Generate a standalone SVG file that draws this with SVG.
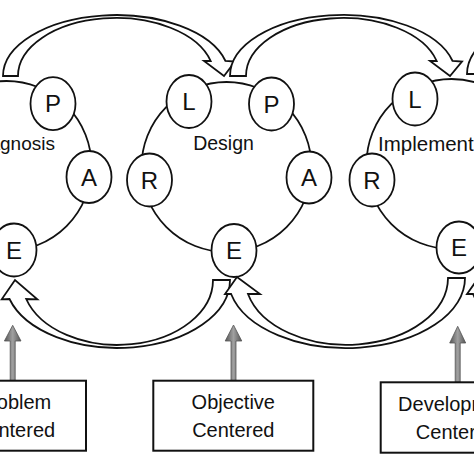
<svg xmlns="http://www.w3.org/2000/svg" width="474" height="474" viewBox="0 0 474 474">
<style>
.cyc{fill:none;stroke:#111;stroke-width:1.8}
.node ellipse{fill:#fff;stroke:#111;stroke-width:1.8}
.letter{font-family:"Liberation Sans",Arial,sans-serif;font-size:24px;fill:#111;text-anchor:middle}
.lbl{font-family:"Liberation Sans",Arial,sans-serif;font-size:20px;fill:#111}
.blk{fill:#fff;stroke:#111;stroke-width:1.8;stroke-linejoin:miter}
.box rect{fill:#fff;stroke:#111;stroke-width:2}
.box text{font-family:"Liberation Sans",Arial,sans-serif;font-size:20px;fill:#111;text-anchor:middle}
.gray{fill:url(#g);stroke:#555;stroke-width:0.8}
</style>
<defs>
<linearGradient id="g" x1="0" y1="0" x2="1" y2="0">
<stop offset="0" stop-color="#555"/>
<stop offset="0.5" stop-color="#a0a0a0"/>
<stop offset="1" stop-color="#555"/>
</linearGradient>
</defs>
<rect width="474" height="474" fill="#fff"/>

<g id="cycles">
<circle class="cyc" cx="6.5" cy="166" r="85"/>
<circle class="cyc" cx="226.5" cy="167" r="85"/>
<circle class="cyc" cx="451.5" cy="164" r="85"/>
</g>

<g id="labels">
<text class="lbl" x="-28.5" y="150" style="font-size:19px">Diagnosis</text>
<text class="lbl" x="223.5" y="150" text-anchor="middle" style="font-size:19.5px">Design</text>
<text class="lbl" x="378" y="151" style="font-size:20.5px">Implementation</text>
</g>

<g id="diag-P" class="node"><ellipse cx="53" cy="103.7" rx="22.5" ry="26.5"/><text class="letter" x="53" y="112.3">P</text></g>
<g id="diag-A" class="node"><ellipse cx="89" cy="177" rx="22.5" ry="26"/><text class="letter" x="89" y="185.6">A</text></g>
<g id="diag-E" class="node"><ellipse cx="14" cy="250" rx="22.5" ry="26.5"/><text class="letter" x="14" y="258.6">E</text></g>

<g id="des-L" class="node"><ellipse cx="189" cy="101.5" rx="22.5" ry="26.5"/><text class="letter" x="189" y="110.1">L</text></g>
<g id="des-P" class="node"><ellipse cx="271.5" cy="104" rx="22.5" ry="26.5"/><text class="letter" x="271.5" y="112.6">P</text></g>
<g id="des-A" class="node"><ellipse cx="309" cy="177.5" rx="22.5" ry="26"/><text class="letter" x="309" y="186.1">A</text></g>
<g id="des-R" class="node"><ellipse cx="149.5" cy="180" rx="22.5" ry="26.5"/><text class="letter" x="149.5" y="188.6">R</text></g>
<g id="des-E" class="node"><ellipse cx="234" cy="250.5" rx="22.5" ry="26.5"/><text class="letter" x="234" y="259.1">E</text></g>

<g id="imp-L" class="node"><ellipse cx="415" cy="99" rx="22.5" ry="26.5"/><text class="letter" x="415" y="107.6">L</text></g>
<g id="imp-R" class="node"><ellipse cx="372" cy="180" rx="22.5" ry="26.5"/><text class="letter" x="372" y="188.6">R</text></g>
<g id="imp-E" class="node"><ellipse cx="459" cy="247.5" rx="22.5" ry="26"/><text class="letter" x="459" y="256.1">E</text></g>

<g id="connectors">
<path class="blk" d="M3 76 A113 61 0 0 1 225.5 61 L235 61.5 L224 76 L204 61 L210.7 61 A98 58 0 0 0 18 76 Z"/>
<path class="blk" d="M230 76 A113 61 0 0 1 452.6 61 L462 61.5 L450 76 L430 61 L436.7 61 A97 58 0 0 0 246 76 Z"/>
<path class="blk" transform="translate(464,-2)" d="M3 76 A113 61 0 0 1 225.5 61 L235 61.5 L224 76 L204 61 L210.7 61 A98 58 0 0 0 18 76 Z"/>
<path class="blk" d="M230 280 A112.5 68 0 0 1 9.5 299 L1.7 299.3 L15 280 L37.3 299.3 L26.2 299 A95.5 65 0 0 0 213 280 Z"/>
<path class="blk" d="M465 278 A118.5 70 0 0 1 231.1 294 L225 294 L237 277 L260 294 L248 294 A101.5 67 0 0 0 448 278 Z"/>
<path class="blk" transform="translate(242,0)" d="M465 278 A118.5 70 0 0 1 231.1 294 L225 294 L237 277 L260 294 L248 294 A101.5 67 0 0 0 448 278 Z"/>
<path class="gray" d="M10.2 380.7 L10.2 341 L4.4 341 L12.7 325.3 L21 341 L15.2 341 L15.2 380.7 Z"/>
<path class="gray" d="M231 380.7 L231 341 L225.2 341 L233.5 325 L241.8 341 L236 341 L236 380.7 Z"/>
<path class="gray" d="M455.2 382.3 L455.2 343 L449.7 343 L457.7 326.3 L465.7 343 L460.2 343 L460.2 382.3 Z"/>
</g>

<g id="box-problem" class="box"><rect x="-60" y="380.7" width="146" height="70"/><text x="14" y="409">Problem</text><text x="14" y="437">Centered</text></g>
<g id="box-objective" class="box"><rect x="153.3" y="380.7" width="160" height="70"/><text x="233.3" y="409">Objective</text><text x="233.3" y="437">Centered</text></g>
<g id="box-development" class="box"><rect x="380.7" y="382.3" width="154" height="70.4"/><text x="457" y="410.5">Development</text><text x="457" y="438.5">Centered</text></g>
</svg>
